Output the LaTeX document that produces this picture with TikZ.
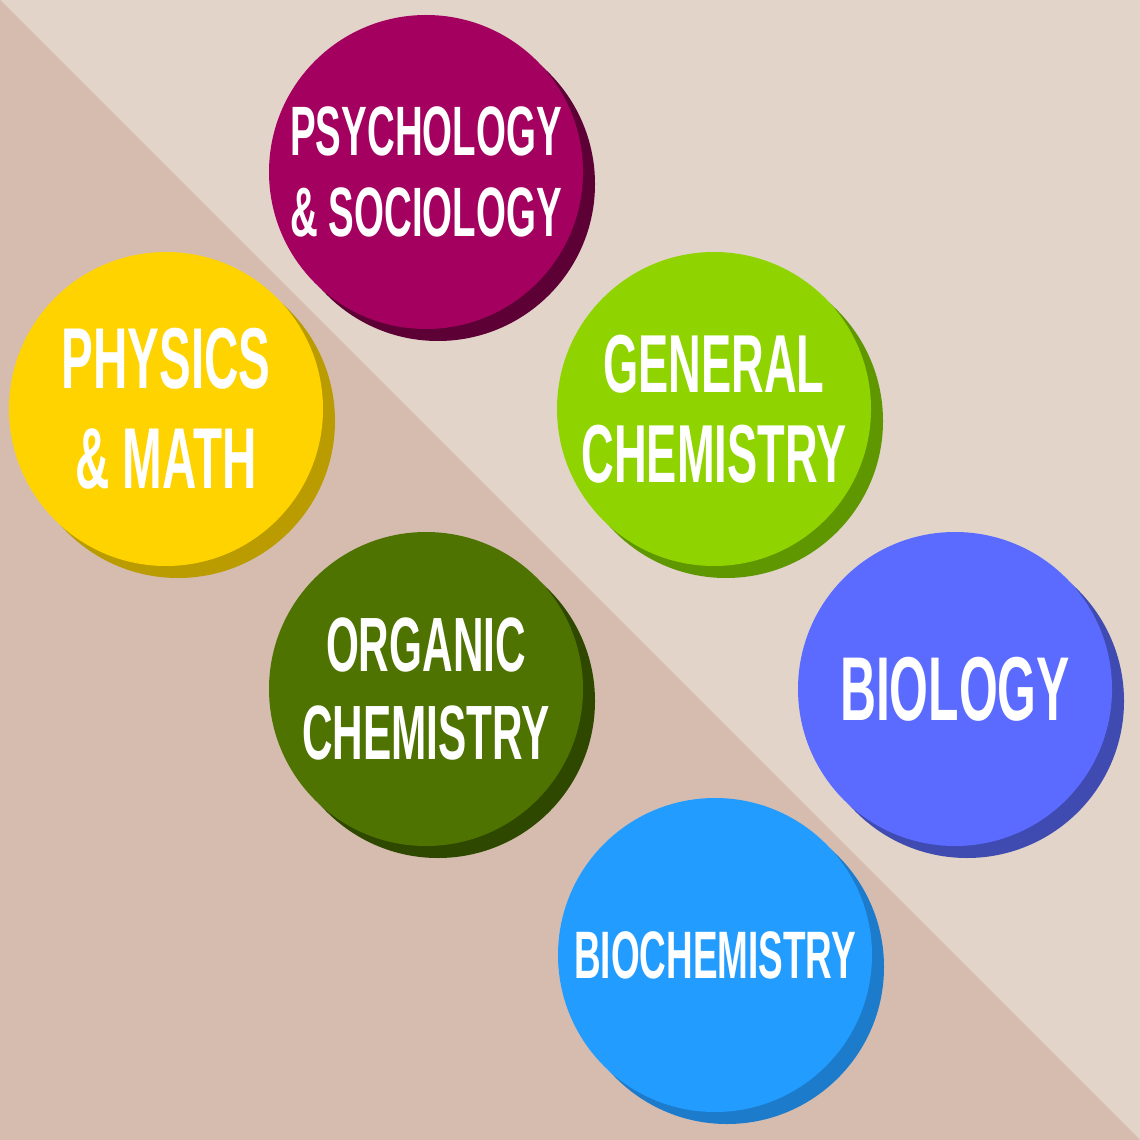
\documentclass[tikz,border=0pt]{standalone}
\usepackage{fontspec}
\newfontfamily\rotulo[FakeStretch=0.55]{Liberation Sans}
\usetikzlibrary{shadows}
\definecolor{fondoA}{HTML}{E2D4C9}
\definecolor{fondoB}{HTML}{D5BCAF}
\definecolor{psico}{HTML}{A3005F}
\definecolor{psicoS}{HTML}{5C0035}
\definecolor{fisica}{HTML}{FFD300}
\definecolor{fisicaS}{HTML}{BA9C00}
\definecolor{general}{HTML}{8FD400}
\definecolor{generalS}{HTML}{5F9700}
\definecolor{organica}{HTML}{4F7300}
\definecolor{organicaS}{HTML}{2F4800}
\definecolor{bio}{HTML}{5B6BFF}
\definecolor{bioS}{HTML}{3F4BB0}
\definecolor{bioq}{HTML}{229DFF}
\definecolor{bioqS}{HTML}{1C7BCB}
\begin{document}
\begin{tikzpicture}[x=0.1mm, y=-0.1mm,
  materia/.style={circle, minimum size=31.4mm, inner sep=0pt, text=white, align=center},
  sombra/.style={drop shadow={shadow xshift=1.2mm, shadow yshift=-1.2mm, opacity=1, fill=#1}}]
% Fondo
\useasboundingbox (0,0) rectangle (1140,1140);
\fill [fondoA] (0,0) rectangle (1140,1140);
\fill [fondoB] (0,0) -- (1140,1140) -- (0,1140) -- cycle;
% Nodos
\node [materia, fill=psico, sombra=psicoS, font=\rotulo\bfseries\fontsize{19.9}{23}\selectfont] (PS) at (426,172) {PSYCHOLOGY\\\& SOCIOLOGY};
\node [materia, fill=fisica, sombra=fisicaS, font=\rotulo\bfseries\fontsize{24.6}{28.5}\selectfont] (FM) at (166,409) {PHYSICS\\\& MATH};
\node [materia, fill=general, sombra=generalS, font=\rotulo\bfseries\fontsize{23.4}{25.6}\selectfont] (QG) at (714,409) {GENERAL\\CHEMISTRY};
\node [materia, fill=organica, sombra=organicaS, font=\rotulo\bfseries\fontsize{21.9}{24.8}\selectfont] (QO) at (426,689) {ORGANIC\\CHEMISTRY};
\node [materia, fill=bio, sombra=bioS, font=\rotulo\bfseries\fontsize{25.8}{28}\selectfont] (BI) at (955,689) {BIOLOGY};
\node [materia, fill=bioq, sombra=bioqS, font=\rotulo\bfseries\fontsize{19.1}{22}\selectfont] (BQ) at (715,955) {BIOCHEMISTRY};
\end{tikzpicture}
\end{document}
